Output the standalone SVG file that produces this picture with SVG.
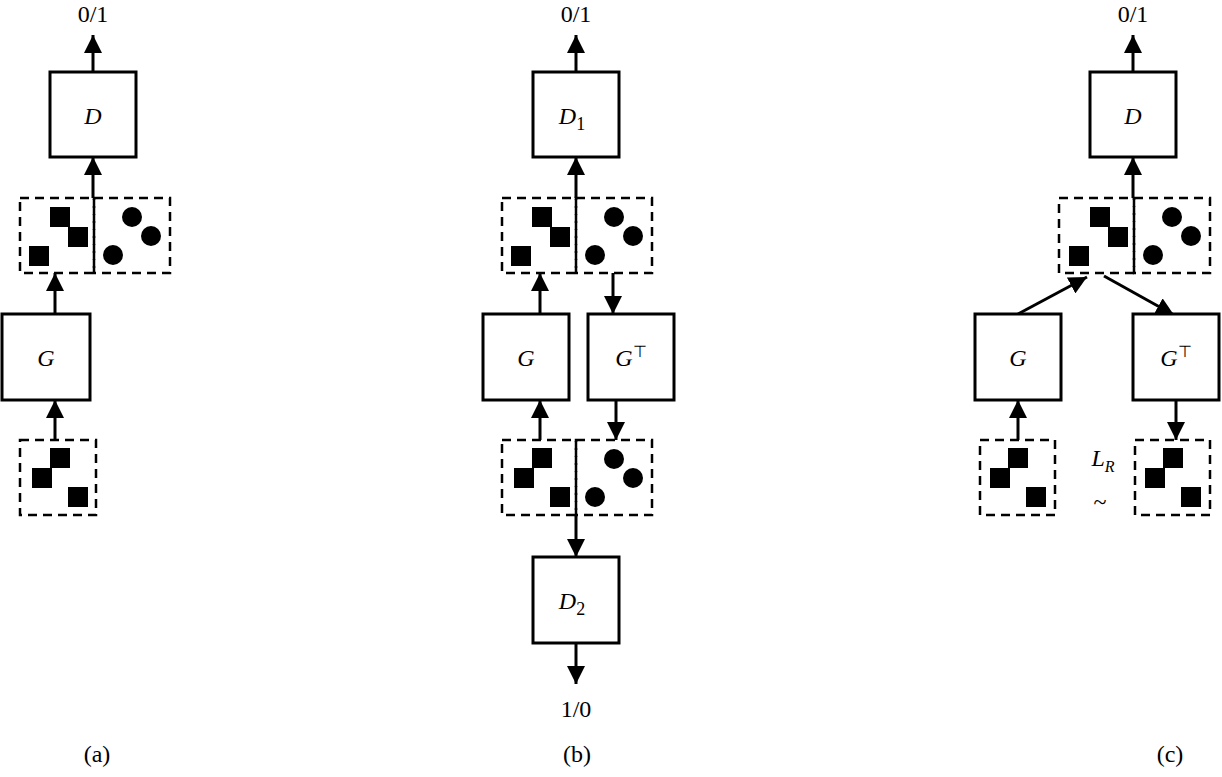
<svg xmlns="http://www.w3.org/2000/svg" width="1222" height="777" viewBox="0 0 1222 777">
<style>
.box{fill:#fff;stroke:#000;stroke-width:3}
.dash{fill:none;stroke:#000;stroke-width:2.5;stroke-dasharray:9 6}
.ln{stroke:#000;stroke-width:3;fill:none;marker-end:url(#ah)}
text{font-family:"Liberation Serif",serif;font-size:24px;text-anchor:middle}
.it{font-style:italic}
</style>
<defs>
<marker id="ah" viewBox="0 0 10 10" refX="10" refY="5" markerWidth="6" markerHeight="6" markerUnits="strokeWidth" orient="auto"><path d="M0,0L10,5L0,10z"/></marker>
<g id="sq3a"><rect x="0" y="0" width="20" height="20"/><rect x="18" y="20" width="20" height="20"/><rect x="-21" y="39" width="20" height="20"/></g>
<g id="sq3b"><rect x="0" y="0" width="20" height="20"/><rect x="-18" y="20" width="20" height="20"/><rect x="18" y="39" width="20" height="20"/></g>
<g id="ci3"><circle cx="0" cy="0" r="10"/><circle cx="19" cy="19" r="10"/><circle cx="-19" cy="38" r="10"/></g>
</defs>
<g id="connectors">
<path class="ln" d="M93,72V35"/><path class="ln" d="M93,198V157"/><path class="ln" d="M55,314V273"/><path class="ln" d="M55,440V400"/>
<path class="ln" d="M576,72V35"/><path class="ln" d="M576,198V157"/><path class="ln" d="M540,314V273"/><path class="ln" d="M613,273V314"/>
<path class="ln" d="M616,400V440"/><path class="ln" d="M540,440V400"/><path class="ln" d="M576,515V557"/><path class="ln" d="M576,643V684"/>
<path class="ln" d="M1133,72V35"/><path class="ln" d="M1133,198V157"/><path class="ln" d="M1018,314L1087,277"/><path class="ln" d="M1104,276L1174,315"/>
<path class="ln" d="M1176,400V440"/><path class="ln" d="M1018,440V400"/>
</g>
<g id="a">
<text x="93" y="22">0/1</text>
<g id="a-D"><rect class="box" x="50" y="72" width="86" height="85"/><text class="it" x="93" y="124">D</text></g>
<g id="a-top"><rect class="dash" x="20" y="198" width="74" height="75"/><rect class="dash" x="94" y="198" width="76" height="75"/><use href="#sq3a" x="50" y="207"/><use href="#ci3" x="132" y="217"/></g>
<g id="a-G"><rect class="box" x="2" y="314" width="88" height="86"/><text class="it" x="46" y="366">G</text></g>
<g id="a-in"><rect class="dash" x="20" y="440" width="76" height="75"/><use href="#sq3b" x="50" y="448"/></g>
<text x="97" y="762">(a)</text>
</g>
<g id="b">
<text x="576" y="22">0/1</text>
<g id="b-D1"><rect class="box" x="533" y="72" width="86" height="85"/><text class="it" x="572" y="124">D<tspan class="" font-style="normal" font-size="18" dy="6">1</tspan></text></g>
<g id="b-top"><rect class="dash" x="502" y="198" width="74" height="75"/><rect class="dash" x="576" y="198" width="76" height="75"/><use href="#sq3a" x="532" y="207"/><use href="#ci3" x="614" y="217"/></g>
<g id="b-G"><rect class="box" x="483" y="314" width="86" height="86"/><text class="it" x="526" y="366">G</text></g>
<g id="b-GT"><rect class="box" x="588" y="314" width="86" height="86"/><text x="631" y="366"><tspan class="it">G</tspan><tspan font-size="16" dy="-9">⊤</tspan></text></g>
<g id="b-in"><rect class="dash" x="502" y="440" width="74" height="75"/><rect class="dash" x="576" y="440" width="76" height="75"/><use href="#sq3b" x="532" y="448"/><use href="#ci3" x="614" y="459"/></g>
<g id="b-D2"><rect class="box" x="533" y="557" width="86" height="86"/><text class="it" x="572" y="609">D<tspan font-style="normal" font-size="18" dy="6">2</tspan></text></g>
<text x="576" y="717">1/0</text>
<text x="577" y="762">(b)</text>
</g>
<g id="c">
<text x="1133" y="22">0/1</text>
<g id="c-D"><rect class="box" x="1090" y="72" width="86" height="85"/><text class="it" x="1133" y="124">D</text></g>
<g id="c-top"><rect class="dash" x="1059" y="198" width="75" height="75"/><rect class="dash" x="1134" y="198" width="76" height="75"/><use href="#sq3a" x="1090" y="207"/><use href="#ci3" x="1172" y="217"/></g>
<g id="c-G"><rect class="box" x="975" y="314" width="86" height="86"/><text class="it" x="1018" y="366">G</text></g>
<g id="c-GT"><rect class="box" x="1133" y="314" width="86" height="86"/><text x="1176" y="366"><tspan class="it">G</tspan><tspan font-size="16" dy="-9">⊤</tspan></text></g>
<g id="c-in1"><rect class="dash" x="980" y="440" width="75" height="75"/><use href="#sq3b" x="1008" y="448"/></g>
<g id="c-in2"><rect class="dash" x="1135" y="440" width="75" height="75"/><use href="#sq3b" x="1163" y="448"/></g>
<text class="it" x="1103" y="466">L<tspan font-size="16" dy="6">R</tspan></text>
<text x="1100" y="510">~</text>
<text x="1170" y="762">(c)</text>
</g>
</svg>
